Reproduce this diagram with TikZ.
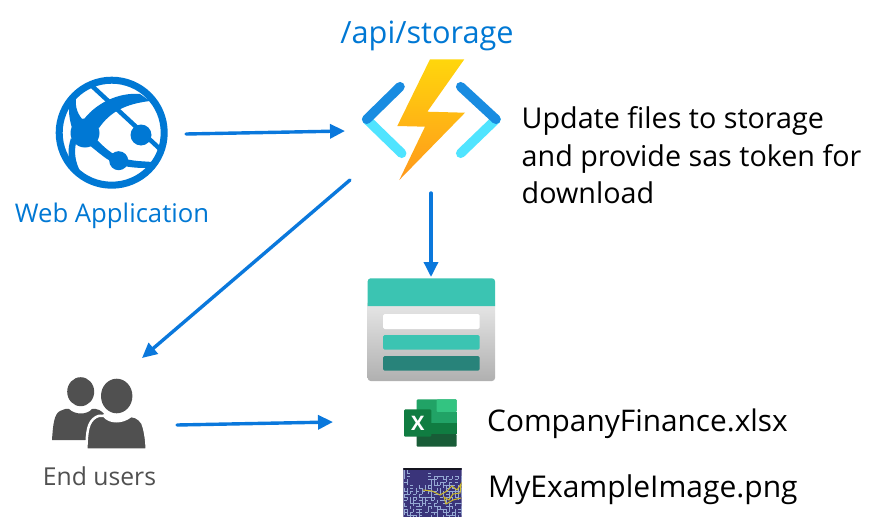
\documentclass[tikz,border=0pt]{standalone}
\usepackage{fontspec}
\setmainfont{Open Sans}
\usetikzlibrary{arrows.meta}
\definecolor{azure}{HTML}{0078D4}
\definecolor{arrowblue}{HTML}{0A78DC}
\definecolor{userg}{HTML}{505050}
\tikzset{
  x=1pt,y=-1pt,
  flow/.style={draw=arrowblue,line width=3.4pt,line cap=round,-{Triangle[length=15pt,width=14pt]},shorten >=0pt},
  holder/.style={inner sep=0pt,outer sep=0pt,draw=none},
  bluetext/.style={text=azure,inner sep=0pt},
  blacktext/.style={text=black,font=\fontsize{28.7}{38}\selectfont,inner sep=0pt,anchor=base west},
}
\begin{document}
\begin{tikzpicture}
\useasboundingbox (0,0) rectangle (886,522);
\fill[white] (0,0) rectangle (886,522);

% holders for connector ends
\node[holder,minimum width=148pt,minimum height=112pt] (web) at (112,134) {};
\node[holder,minimum width=172pt,minimum height=124pt] (func) at (431,131) {};
\node[holder,minimum width=128pt,minimum height=104pt] (stor) at (431,329) {};
\node[holder,minimum width=130pt,minimum height=90pt] (users) at (112,425) {};
\node[holder,minimum width=130pt,minimum height=50pt] (xlsx) at (398,422) {};
\coordinate (funcout) at (350,180);
\coordinate (usersin) at (142,358);

% web app icon
\begin{scope}
\clip (111.7,132.7) circle[radius=50pt];
\fill[azure] (85,133) circle[radius=14.5pt];
\fill[azure] (141,135) circle[radius=10.5pt];
\fill[azure] (118.7,160.7) circle[radius=9.5pt];
\draw[azure,line width=4.5pt] (92,86) -- (160,149);
\fill[azure] (82,122) .. controls (94,104) and (118,92) .. (140,94) -- (150,101) .. controls (125,104) and (110,112) .. (99,128) -- cycle;
\fill[azure] (76,98) .. controls (75,108) and (78,115) .. (84,121) -- (72,128) .. controls (69,118) and (67,105) .. (72,96) -- cycle;
\fill[azure] (76,143) .. controls (74,152) and (75,162) .. (81,173) -- (72,172) .. controls (68,160) and (67,150) .. (71,138) -- cycle;
\fill[azure] (95,138) .. controls (103,146) and (110,153) .. (118,156) .. controls (128,161) and (138,161) .. (153,162) -- (147,168) .. controls (135,168) and (122,167) .. (112,162) .. controls (103,157) and (97,151) .. (89,145) -- cycle;
\end{scope}
\draw[azure,line width=7pt] (111.7,132.7) circle[radius=52.5pt];
\node[bluetext,anchor=base,font=\fontsize{25.7}{30}\selectfont] (weblabel) at (112,222) {Web Application};

% function icon
\draw[color={rgb,255:red,80;green,228;blue,255},line width=9.5pt,line cap=round] (366.7,119.3) -- (401.7,153.3);
\draw[color={rgb,255:red,80;green,228;blue,255},line width=9.5pt,line cap=round] (496,119.3) -- (460.7,153.3);
\draw[color={rgb,255:red,25;green,140;blue,225},line width=9.5pt,line cap=round] (400,86.7) -- (366.7,119.3);
\draw[color={rgb,255:red,25;green,140;blue,225},line width=9.5pt,line cap=round] (460.7,86.7) -- (496,119.3);
\shade[top color={rgb,255:red,255;green,214;blue,12},bottom color={rgb,255:red,255;green,152;blue,28},draw=none]
  (430,59.3) -- (464.3,59.3) -- (427.3,111.7) -- (465,112.7) -- (399.3,180) -- (425,126.7) -- (397.3,126) -- cycle;
\node[bluetext,anchor=base,font=\fontsize{30.7}{34}\selectfont] (funclabel) at (427,43) {/api/storage};
\node[blacktext] (desc1) at (521.5,128) {Update files to storage};
\node[blacktext] (desc2) at (521.5,166) {and provide sas token for};
\node[blacktext] (desc3) at (521.5,203) {download};

% storage icon
\shade[top color={rgb,255:red,232;green,232;blue,232},bottom color={rgb,255:red,176;green,176;blue,176},rounded corners=3pt]
  (367.7,300) rectangle (495,381);
\fill[color={rgb,255:red,59;green,196;blue,178},rounded corners=3pt] (367.7,306) [sharp corners] -- (367.7,306) [rounded corners=3pt] -- (367.7,278.3) -- (495,278.3) [sharp corners] -- (495,306) -- cycle;
\fill[white,rounded corners=1.5pt] (383,314) rectangle (479.7,329);
\fill[color={rgb,255:red,59;green,196;blue,178},rounded corners=1.5pt] (383,335) rectangle (479.7,349.7);
\fill[color={rgb,255:red,40;green,131;blue,122},rounded corners=1.5pt] (383,356) rectangle (479.7,370.7);

% excel icon
\fill[color={rgb,255:red,33;green,163;blue,102},rounded corners=1pt] (416.7,399.3) rectangle (456.7,412);
\fill[color={rgb,255:red,51;green,196;blue,129},rounded corners=1pt] (436.7,399.3) rectangle (456.7,412);
\fill[color={rgb,255:red,33;green,163;blue,102}] (416.7,411.7) rectangle (456.7,423);
\fill[color={rgb,255:red,16;green,124;blue,65}] (416.7,422.7) rectangle (456.7,434);
\fill[color={rgb,255:red,24;green,92;blue,55},rounded corners=1pt] (416.7,434) rectangle (456.7,446.7);
\fill[color={rgb,255:red,16;green,124;blue,65},rounded corners=1.2pt] (404,409.3) rectangle (431.3,436.7);
\node[text=white,inner sep=0pt,font=\bfseries\fontsize{20}{20}\selectfont] (xmark) at (417.7,423) {X};
\node[text=black,font=\fontsize{29.8}{34}\selectfont,inner sep=0pt,anchor=base west] (xname) at (487,431) {CompanyFinance.xlsx};

% image thumbnail
\begin{scope}
\clip (403.3,468.3) rectangle (461.7,516.7);
\fill[color={rgb,255:red,58;green,52;blue,122}] (403.3,468.3) rectangle (461.7,516.7);
\fill[color={rgb,255:red,20;green,20;blue,30}] (403.3,468.3) rectangle (461.7,469.5);
\pgfmathsetseed{4711}
\foreach \gx in {404,407,...,461}{
  \foreach \gy in {470,473,...,517}{
    \pgfmathsetmacro{\pa}{rnd}
    \pgfmathsetmacro{\pb}{rnd}
    \pgfmathparse{(\gx>407 && \gx<427 && \gy<484) || (\gx>430 && \gy<476) ? 1 : 0}
    \ifnum\pgfmathresult=0
      \ifdim\pa pt<0.5pt
        \draw[color={rgb,255:red,150;green,170;blue,212},line width=.7pt] (\gx,\gy) -- ++(3,0);
      \fi
      \ifdim\pb pt<0.5pt
        \draw[color={rgb,255:red,150;green,170;blue,212},line width=.7pt] (\gx,\gy) -- ++(0,3);
      \fi
    \fi
  }
}
\draw[color={rgb,255:red,205;green,185;blue,40},line width=1pt]
  (423,490) -- (432,491) -- (440,495) -- (447,491) -- (452,486) -- (457,490) -- (461,484) -- (460,493) -- (453,494) -- (449,500) -- (444,497) -- (446,504) -- (453,500) -- (461,498);
\end{scope}
\node[text=black,font=\fontsize{30}{34}\selectfont,inner sep=0pt,anchor=base west] (iname) at (488,497) {MyExampleImage.png};

% users icon
\fill[userg] (80.7,391.7) ellipse[x radius=13.5pt,y radius=14.5pt];
\fill[userg] (52,440) .. controls (53,425) and (54,414) .. (60,411) .. controls (65,409) and (67,408) .. (69,409)
  .. controls (75,415) and (87,415) .. (92,409) .. controls (97,408) and (102,411) .. (104,414)
  .. controls (92,420) and (88,430) .. (86,440) -- cycle;
\draw[white,line width=2.5pt,fill=userg] (86.3,449.5) .. controls (87,430) and (88,422) .. (96,417) .. controls (100,415) and (101,416) .. (104,416)
  .. controls (110,423) and (122,423) .. (131,416) .. controls (137,416) and (143,421) .. (144,428) .. controls (146,436) and (146.7,444) .. (146.7,449.5) -- cycle;
\fill[userg] (116.7,396) ellipse[x radius=15.7pt,y radius=17.3pt];
\node[text=userg,inner sep=0pt,font=\fontsize{24.7}{28}\selectfont,anchor=base] (userlabel) at (99.5,485) {End users};

% connectors
\draw[flow] (web.east) -- (func.west);
\draw[flow] (funcout) -- (usersin);
\draw[flow] (func.south) -- (stor.north);
\draw[flow] (users.east) -- (xlsx.west);
\end{tikzpicture}
\end{document}
